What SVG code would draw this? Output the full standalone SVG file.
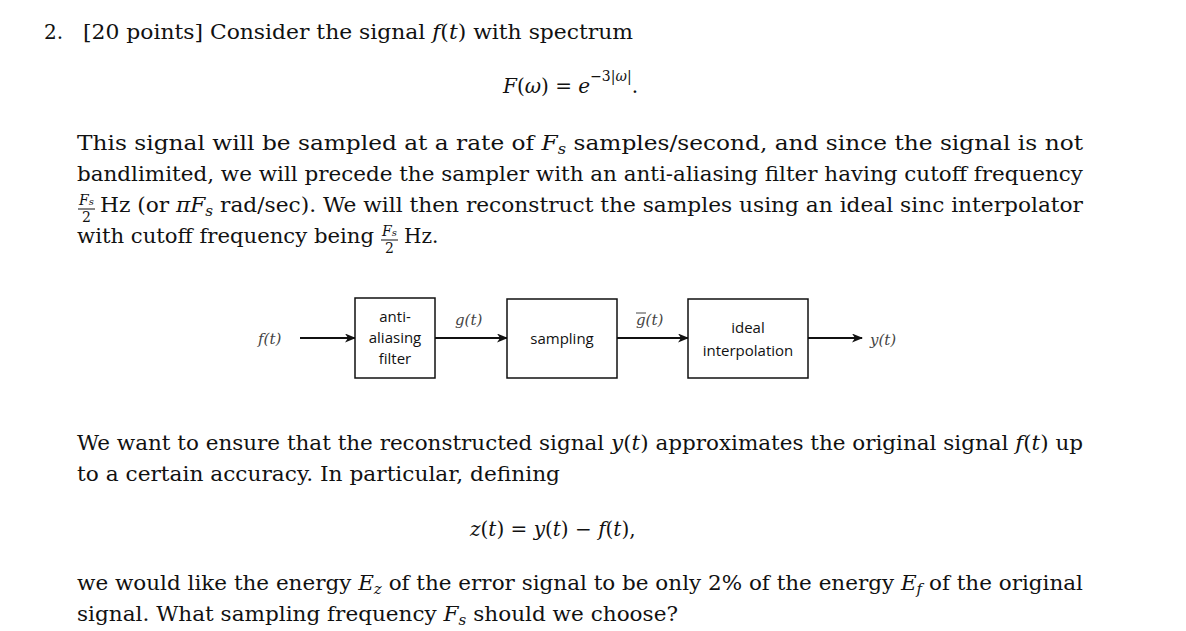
<svg xmlns="http://www.w3.org/2000/svg" width="1186" height="631" viewBox="0 0 1186 631">
<style>
.t{font-family:"DejaVu Serif","Liberation Serif",serif;font-size:20px;fill:#111}
.i{font-style:italic}
.s{font-size:14px}
.b{font-family:"Open Sans","Liberation Sans",sans-serif;font-size:15px;fill:#111;text-anchor:middle}
.m{font-family:"DejaVu Serif","Liberation Serif",serif;font-style:italic;font-size:15px;fill:#444}
rect{fill:#fff;stroke:#111;stroke-width:1.5}
</style>
<defs><marker id="a" markerWidth="11" markerHeight="9" refX="10" refY="4.5" orient="auto" markerUnits="userSpaceOnUse"><path d="M0,0 L11,4.5 L0,9 L3,4.5 Z" fill="#111"/></marker></defs>
<rect x="0" y="0" width="1186" height="631" style="fill:#fff;stroke:none"/>
<text class="t" x="44" y="39">2.</text>
<text class="t" x="83" y="39" textLength="550" lengthAdjust="spacingAndGlyphs">[20 points] Consider the signal <tspan class="i">f</tspan>(<tspan class="i">t</tspan>) with spectrum</text>
<text class="t" x="503" y="93"><tspan class="i">F</tspan>(<tspan class="i">ω</tspan>) = <tspan class="i">e</tspan><tspan class="s" dy="-12">−3|<tspan class="i">ω</tspan>|</tspan><tspan dy="12">.</tspan></text>
<text class="t" x="77" y="150" textLength="1006" lengthAdjust="spacingAndGlyphs">This signal will be sampled at a rate of <tspan class="i">F<tspan class="s" dy="4">s</tspan></tspan><tspan dy="-4"> samples/second, and since the signal is not</tspan></text>
<text class="t" x="77" y="181" textLength="1006" lengthAdjust="spacingAndGlyphs">bandlimited, we will precede the sampler with an anti-aliasing filter having cutoff frequency</text>
<text class="t s i" x="79" y="205">F<tspan font-size="10">s</tspan></text>
<line x1="78" y1="209" x2="95" y2="209" stroke="#111" stroke-width="1"/>
<text class="t s" x="82" y="222">2</text>
<text class="t" x="100" y="212" textLength="983" lengthAdjust="spacingAndGlyphs">Hz (or <tspan class="i">πF<tspan class="s" dy="4">s</tspan></tspan><tspan dy="-4"> rad/sec). We will then reconstruct the samples using an ideal sinc interpolator</tspan></text>
<text class="t" x="77" y="243" textLength="297" lengthAdjust="spacingAndGlyphs">with cutoff frequency being</text>
<text class="t s i" x="382" y="236">F<tspan font-size="10">s</tspan></text>
<line x1="381" y1="240" x2="398" y2="240" stroke="#111" stroke-width="1"/>
<text class="t s" x="385" y="253">2</text>
<text class="t" x="404" y="243">Hz.</text>

<g id="connectors" stroke="#111" stroke-width="2" fill="none">
<line x1="300" y1="338" x2="355" y2="338" marker-end="url(#a)"/>
<line x1="435" y1="338" x2="507" y2="338" marker-end="url(#a)"/>
<line x1="617" y1="338" x2="688" y2="338" marker-end="url(#a)"/>
<line x1="808" y1="338" x2="862" y2="338" marker-end="url(#a)"/>
</g>
<g id="n1"><rect x="355" y="298" width="80" height="80"/><text class="b" x="395" y="322">anti-</text><text class="b" x="395" y="343">aliasing</text><text class="b" x="395" y="364">filter</text></g>
<g id="n2"><rect x="507" y="299" width="110" height="79"/><text class="b" x="562" y="344">sampling</text></g>
<g id="n3"><rect x="688" y="299" width="120" height="79"/><text class="b" x="748" y="333">ideal</text><text class="b" x="748" y="356">interpolation</text></g>
<text class="m" x="258" y="344">f(t)</text>
<text class="m" x="455" y="325">g(t)</text>
<text class="m" x="636" y="325">g(t)</text>
<line x1="636" y1="313" x2="646" y2="313" stroke="#444" stroke-width="1"/>
<text class="m" x="870" y="345">y(t)</text>

<text class="t" x="77" y="450" textLength="1006" lengthAdjust="spacingAndGlyphs">We want to ensure that the reconstructed signal <tspan class="i">y</tspan>(<tspan class="i">t</tspan>) approximates the original signal <tspan class="i">f</tspan>(<tspan class="i">t</tspan>) up</text>
<text class="t" x="77" y="481" textLength="483" lengthAdjust="spacingAndGlyphs">to a certain accuracy. In particular, defining</text>
<text class="t" x="470" y="536"><tspan class="i">z</tspan>(<tspan class="i">t</tspan>) = <tspan class="i">y</tspan>(<tspan class="i">t</tspan>) − <tspan class="i">f</tspan>(<tspan class="i">t</tspan>),</text>
<text class="t" x="77" y="590" textLength="1006" lengthAdjust="spacingAndGlyphs">we would like the energy <tspan class="i">E<tspan class="s" dy="4">z</tspan></tspan><tspan dy="-4"> of the error signal to be only 2% of the energy </tspan><tspan class="i">E<tspan class="s" dy="4">f</tspan></tspan><tspan dy="-4"> of the original</tspan></text>
<text class="t" x="77" y="621" textLength="601" lengthAdjust="spacingAndGlyphs">signal. What sampling frequency <tspan class="i">F<tspan class="s" dy="4">s</tspan></tspan><tspan dy="-4"> should we choose?</tspan></text>
</svg>
